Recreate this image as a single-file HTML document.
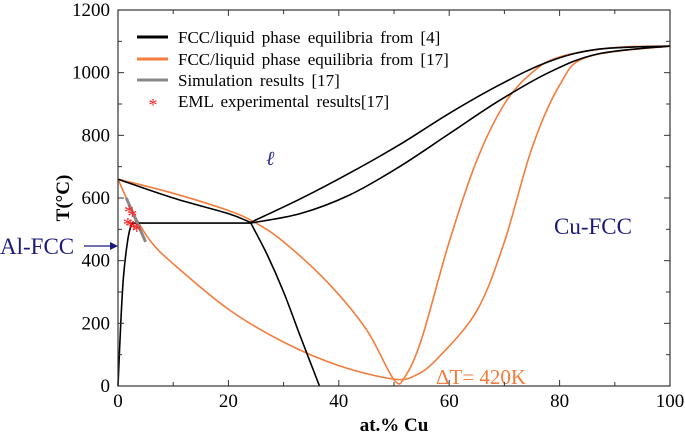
<!DOCTYPE html>
<html><head><meta charset="utf-8"><style>
body{margin:0;background:#fff}
svg{display:block;font-family:"Liberation Serif",serif}
</style></head><body>
<svg id="chart" width="685" height="437" viewBox="0 0 685 437">
<g id="plot"></g>
<g font-size="17" word-spacing="3" fill="#000">
<line x1="137" y1="37" x2="168" y2="37" stroke="#000" stroke-width="3"/>
<text x="178" y="43">FCC/liquid phase equilibria from [4]</text>
<line x1="137" y1="59" x2="168" y2="59" stroke="#f47c3c" stroke-width="3"/>
<text x="178" y="65">FCC/liquid phase equilibria from [17]</text>
<line x1="137" y1="80" x2="168" y2="80" stroke="#888" stroke-width="3"/>
<text x="178" y="86">Simulation results [17]</text>
<text x="153" y="111" fill="#ff2020" font-size="18" text-anchor="middle">*</text>
<text x="178" y="107">EML experimental results[17]</text>
</g>
<text x="266" y="165" font-size="20" font-style="italic" fill="#2a2a9a">ℓ</text>
<text x="554" y="234" font-size="23" fill="#1a1a7a">Cu-FCC</text>
<text x="0" y="254" font-size="23" fill="#1a1a7a">Al-FCC</text>
<line x1="84" y1="246" x2="112" y2="246" stroke="#1a1a7a" stroke-width="1.2"/>
<polygon points="118,246 110,242 110,250" fill="#1a1a7a"/>
<text x="436" y="384" font-size="21" fill="#f47c3c">ΔT= 420K</text>
<text x="394" y="431" font-size="19" font-weight="bold" text-anchor="middle">at.% Cu</text>
<text transform="translate(69,198) rotate(-90)" font-size="19" font-weight="bold" text-anchor="middle">T(°C)</text>
</svg>
<script>
const xTicks=[0,20,40,60,80,100];
const yTicks=[0,200,400,600,800,1000,1200];
const blackLiqUpperX=[24,33,42,51,60,69,78,87,100];
const blackLiqUpperT=[522,597,680,770,870,960,1035,1075,1085];
const blackLiqLowerX=[24,33,42,51,60,69,78,87,100];
const blackLiqLowerT=[520,550,610,700,805,910,1000,1060,1085];
const blackLeftX=[0,10,20,24];
const blackLeftT=[660,600,550,522];
const blackSolvusX=[0,0.5,1,1.8,2.5];
const blackSolvusT=[0,200,350,470,522];
const blackRightX=[24,27,30,33,36.5];
const blackRightT=[522,420,300,160,0];
const eutecticX=[2.5,24];
const eutecticT=[520,520];
const orangeAX=[0,10,20,25,30,38,45,50,52,55,60,65,70,75,80,90,100];
const orangeAT=[660,615,560,520,460,330,180,20,30,150,460,720,900,1000,1050,1080,1085];
const orangeBX=[0,3,6,10,20,30,40,50,54,58,65,70,75,80,85,100];
const orangeBT=[660,545,460,390,245,140,65,22,35,90,240,460,760,960,1050,1085];
const simX=[1.5,5];
const simT=[600,460];
const emlX=[2,2.6,2.2,2.9,3.4,1.8];
const emlT=[560,548,515,508,500,520];

const L=118,R=670,T0=386,T1200=10;
const sx=v=>L+(R-L)*v/100;
const sy=v=>T0-(T0-T1200)*v/1200;
const NS="http://www.w3.org/2000/svg";
const svg=document.getElementById('chart');
const plot=document.getElementById('plot');
function mk(tag,attrs,parent){const e=document.createElementNS(NS,tag);for(const k in attrs)e.setAttribute(k,attrs[k]);(parent||svg).appendChild(e);return e;}
function pathD(xs,ts){
  const p=xs.map((x,i)=>[sx(x),sy(ts[i])]);
  let d='M'+p[0][0]+','+p[0][1];
  for(let i=0;i<p.length-1;i++){
    const p0=p[i-1]||p[i],p1=p[i],p2=p[i+1],p3=p[i+2]||p2;
    const c1=[p1[0]+(p2[0]-p0[0])/6,p1[1]+(p2[1]-p0[1])/6];
    const c2=[p2[0]-(p3[0]-p1[0])/6,p2[1]-(p3[1]-p1[1])/6];
    d+=`C${c1[0]},${c1[1]} ${c2[0]},${c2[1]} ${p2[0]},${p2[1]}`;
  }
  return d;
}
function curve(xs,ts,color,w,name){
  const e=mk('path',{d:pathD(xs,ts),fill:'none',stroke:color,'stroke-width':w},plot);
  
  
}
curve(orangeAX,orangeAT,'#f47c3c',1.6,'orange-liquidus');
curve(orangeBX,orangeBT,'#f47c3c',1.6,'orange-solidus');
curve(blackLiqUpperX,blackLiqUpperT,'#000',1.6,'black-liquidus-upper');
curve(blackLiqLowerX,blackLiqLowerT,'#000',1.6,'black-liquidus-lower');
curve(blackLeftX,blackLeftT,'#000',1.6,'black-liquidus-left');
curve(blackSolvusX,blackSolvusT,'#000',1.6,'black-solvus');
curve(blackRightX,blackRightT,'#000',1.6,'black-boundary-right');
curve(eutecticX,eutecticT,'#000',1.6,'eutectic-line');
curve(simX,simT,'#888',3,'simulation-line');
emlX.forEach((x,i)=>{
  const t=mk('text',{x:sx(x),y:sy(emlT[i])+8,'text-anchor':'middle','font-size':20,fill:'#ff2020'},plot);
  t.textContent='*';
  
  
});
const fr=mk('rect',{x:L,y:T1200,width:R-L,height:T0-T1200,fill:'none',stroke:'#333','stroke-width':1.2});


for(let v=0;v<=100;v+=10){
  const len=v%20===0?6:4;
  mk('line',{x1:sx(v),x2:sx(v),y1:T0,y2:T0-len,stroke:'#333'});
  mk('line',{x1:sx(v),x2:sx(v),y1:T1200,y2:T1200+len,stroke:'#333'});
}
for(let v=0;v<=1200;v+=100){
  const len=v%200===0?6:4;
  mk('line',{x1:L,x2:L+len,y1:sy(v),y2:sy(v),stroke:'#333'});
  mk('line',{x1:R,x2:R-len,y1:sy(v),y2:sy(v),stroke:'#333'});
}
xTicks.forEach(v=>{
  const t=mk('text',{x:sx(v),y:407,'text-anchor':'middle','font-size':19,fill:'#000'});
  t.textContent=v;
  
  
});
yTicks.forEach(v=>{
  const t=mk('text',{x:110,y:sy(v)+6,'text-anchor':'end','font-size':19,fill:'#000'});
  t.textContent=v;
  
  
});
</script>
</body></html>
